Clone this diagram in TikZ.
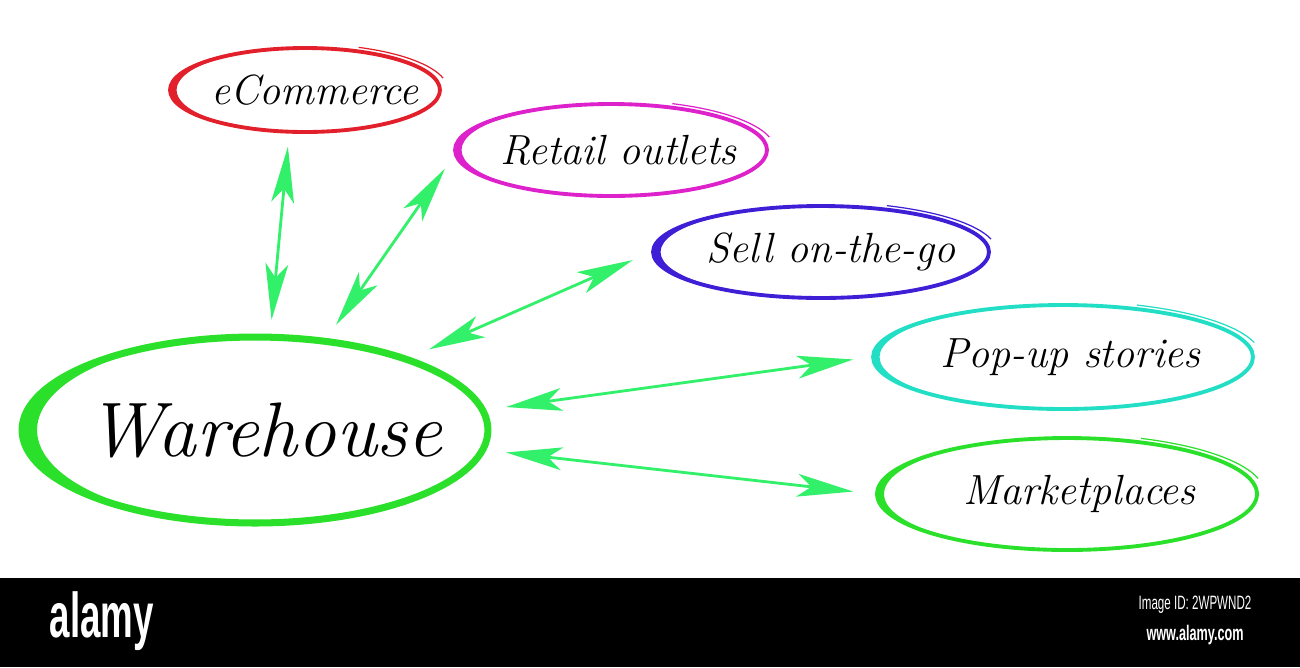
\documentclass[tikz,border=0pt]{standalone}
\usepackage{fontspec}
\usetikzlibrary{arrows.meta,shapes.geometric}
\newfontfamily\bannerfont{Liberation Sans}
\definecolor{linkgreen}{HTML}{33F06A}
\definecolor{ringred}{HTML}{E2202C}
\definecolor{ringmagenta}{HTML}{DD22CC}
\definecolor{ringblue}{HTML}{3F1FD6}
\definecolor{ringteal}{HTML}{22DEC4}
\definecolor{ringgreen}{HTML}{2BE02B}
\tikzset{
  ring/.style={ellipse,draw=#1,line width=2.2pt,inner sep=0pt,font=\itshape\fontsize{24}{27}\selectfont},
  tail/.style={#1,line width=0.7pt},
  link/.style={linkgreen,line width=1.6pt,
    {Stealth[length=32pt,width=13pt,inset=8pt]}-{Stealth[length=32pt,width=13pt,inset=8pt]}},
  banner/.style={text=white,inner sep=0pt}
}
% thick left side of a hand drawn ring: node, colour, x radius, y radius, thickness
\newcommand{\brushside}[5]{%
  \fill[#2] ([shift={(#1.center)}]90:#3 and #4) arc[start angle=90,end angle=270,x radius=#3,y radius=#4]
    arc[start angle=270,end angle=90,x radius=#3-#5,y radius=#4];}

\begin{document}
\begin{tikzpicture}[x=0.02cm,y=0.02cm]
    \useasboundingbox (0,0) rectangle (1300,-667);
    % centre and outlets
    \node[ring=ringgreen,line width=4pt,minimum width=9.32cm,minimum height=3.72cm,
      font=\itshape\fontsize{44}{48}\selectfont] (wh) at (255,-430) {\makebox[0pt]{\hspace*{0.4cm}Warehouse}};
    \node[ring=ringred,minimum width=5.4cm,minimum height=1.68cm] (ec) at (305,-90) {\makebox[0pt]{\hspace*{0.4cm}eCommerce}};
    \node[ring=ringmagenta,minimum width=6.24cm,minimum height=1.84cm] (rt) at (611,-150) {\makebox[0pt]{\hspace*{0.3cm}Retail outlets}};
    \node[ring=ringblue,minimum width=6.72cm,minimum height=1.84cm] (sl) at (821,-252) {\makebox[0pt]{\hspace*{0.4cm}Sell on-the-go}};
    \node[ring=ringteal,minimum width=7.6cm,minimum height=2.08cm] (pu) at (1063,-357) {\makebox[0pt]{\hspace*{0.3cm}Pop-up stories}};
    \node[ring=ringgreen,minimum width=7.6cm,minimum height=2.24cm] (mp) at (1067,-494) {\makebox[0pt]{\hspace*{0.5cm}Marketplaces}};
    % thicker brush on the left sides
    \brushside{wh}{ringgreen}{4.66cm}{1.86cm}{0.3cm}
    \brushside{ec}{ringred}{2.7cm}{0.84cm}{0.13cm}
    \brushside{rt}{ringmagenta}{3.12cm}{0.92cm}{0.13cm}
    \brushside{sl}{ringblue}{3.36cm}{0.92cm}{0.15cm}
    \brushside{pu}{ringteal}{3.8cm}{1.04cm}{0.13cm}
    \brushside{mp}{ringgreen}{3.8cm}{1.12cm}{0.14cm}
    % thin tails at the top right
    \draw[tail=ringred] ([shift={(ec.center)}]68:2.86cm and 0.92cm) arc[start angle=68,end angle=15,x radius=2.86cm,y radius=0.92cm];
    \draw[tail=ringmagenta] ([shift={(rt.center)}]68:3.28cm and 1cm) arc[start angle=68,end angle=15,x radius=3.28cm,y radius=1cm];
    \draw[tail=ringblue] ([shift={(sl.center)}]68:3.52cm and 1cm) arc[start angle=68,end angle=15,x radius=3.52cm,y radius=1cm];
    \draw[tail=ringteal] ([shift={(pu.center)}]68:3.96cm and 1.12cm) arc[start angle=68,end angle=15,x radius=3.96cm,y radius=1.12cm];
    \draw[tail=ringgreen] ([shift={(mp.center)}]68:3.96cm and 1.2cm) arc[start angle=68,end angle=15,x radius=3.96cm,y radius=1.2cm];
    % two-way links
    \draw[link,shorten <=0.28cm,shorten >=0.26cm] (wh.81) -- (ec.250);
    \draw[link,shorten <=0.32cm,shorten >=0.32cm] (wh.52) -- (rt.182);
    \draw[link,shorten <=0.4cm,shorten >=0.4cm] (wh.25) -- (sl.west);
    \draw[link,shorten <=0.4cm,shorten >=0.36cm] (wh.5) -- (pu.west);
    \draw[link,shorten <=0.4cm,shorten >=0.44cm] (wh.-5) -- (mp.west);
    % banner
    \fill[black] (0,-578) rectangle (1300,-667);
    \node[banner,font=\bannerfont\bfseries\fontsize{36}{36}\selectfont] (logo) at (102,-621) {\scalebox{0.58}[1]{alamy}};
    \node[banner,font=\bannerfont\fontsize{11}{11}\selectfont] (imgid) at (1195,-605) {\scalebox{0.6}[1]{Image ID: 2WPWND2}};
    \node[banner,font=\bannerfont\bfseries\fontsize{12}{12}\selectfont] (site) at (1195,-635) {\scalebox{0.6}[1]{www.alamy.com}};
\end{tikzpicture}
\end{document}
